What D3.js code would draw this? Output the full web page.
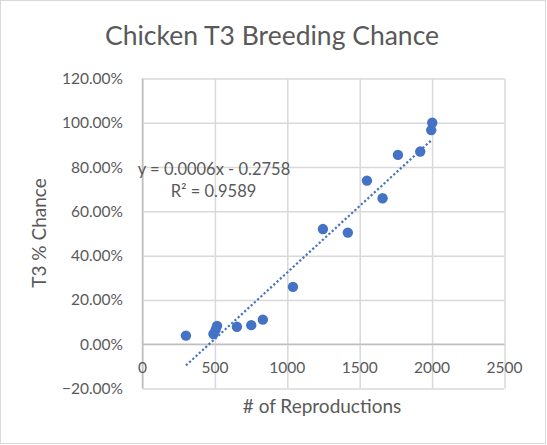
<!DOCTYPE html>
<html>
<head>
<script src="https://d3js.org/d3.v7.min.js"></script>
<style>
  body { margin: 0; background: #fff; }
  text { font-family: Lato, "Open Sans", sans-serif; fill: #595959; }
</style>
</head>
<body>
<svg id="chart" width="547" height="445"></svg>
<script>
// data
var reproductions = [300, 490, 505, 515, 652, 751, 831, 1039, 1246, 1418, 1550, 1658, 1764, 1918, 1994, 2001];
var chance        = [0.039, 0.046, 0.065, 0.083, 0.079, 0.086, 0.111, 0.259, 0.520, 0.504, 0.739, 0.659, 0.855, 0.870, 0.967, 1.000];
var xTicks = [0, 500, 1000, 1500, 2000, 2500];
var yTicks = [-0.2, 0, 0.2, 0.4, 0.6, 0.8, 1.0, 1.2];
var trendSlope = 0.0006, trendIntercept = -0.2758;
var eqLabel = "y = 0.0006x - 0.2758";
var r2Label = "R² = 0.9589";

var points = reproductions.map(function(d, i) { return {x: d, y: chance[i]}; });

var svg = d3.select("#chart");

// outer chart border
svg.append("rect")
  .attr("x", 0.5).attr("y", 0.5)
  .attr("width", 545).attr("height", 443)
  .attr("fill", "#fff")
  .attr("stroke", "#d9d9d9");

var xScale = d3.scaleLinear().domain([0, 2500]).range([142.5, 504.5]);
var yScale = d3.scaleLinear().domain([-0.2, 1.2]).range([388.5, 78.5]);

// grid
svg.append("g")
  .attr("transform", "translate(0,388.5)")
  .call(d3.axisBottom(xScale).tickValues(xTicks).tickSize(-310).tickFormat(""))
  .call(g => g.select(".domain").remove())
  .selectAll("line").attr("stroke", "#d9d9d9").attr("stroke-width", 1.5);

svg.append("g")
  .attr("transform", "translate(142.5,0)")
  .call(d3.axisLeft(yScale).tickValues(yTicks).tickSize(-362).tickFormat(""))
  .call(g => g.select(".domain").remove())
  .selectAll("line").attr("stroke", "#d9d9d9").attr("stroke-width", 1.5);

// axis lines
svg.append("line")
  .attr("x1", xScale(0)).attr("x2", xScale(2500))
  .attr("y1", yScale(0)).attr("y2", yScale(0))
  .attr("stroke", "#bfbfbf").attr("stroke-width", 1.5);
svg.append("line")
  .attr("x1", xScale(0)).attr("x2", xScale(0))
  .attr("y1", yScale(1.2)).attr("y2", yScale(-0.2))
  .attr("stroke", "#bfbfbf").attr("stroke-width", 1.5);

// tick labels
svg.append("g").selectAll("text")
  .data(yTicks)
  .enter()
  .append("text")
  .attr("x", 123)
  .attr("y", d => yScale(d) + 5.5)
  .attr("text-anchor", "end")
  .style("font-size", "15.5px")
  .text(d => d3.format(".2%")(d));

svg.append("g").selectAll("text")
  .data(xTicks)
  .enter()
  .append("text")
  .attr("x", d => xScale(d))
  .attr("y", yScale(0) + 29)
  .attr("text-anchor", "middle")
  .style("font-size", "15.5px")
  .text(d => d);

// trendline, over the data range
var xExt = d3.extent(reproductions);
var trend = d3.line().x(d => xScale(d)).y(d => yScale(trendSlope * d + trendIntercept));
svg.append("path")
  .attr("d", trend(xExt))
  .attr("fill", "none")
  .attr("stroke", "#4472c4")
  .attr("stroke-width", 2.2)
  .attr("stroke-dasharray", "2.2,2.2");

// points
svg.append("g").selectAll("circle")
  .data(points)
  .enter()
  .append("circle")
  .attr("r", 5.2)
  .attr("cx", d => xScale(d.x))
  .attr("cy", d => yScale(d.y))
  .style("fill", "#4472c4");

// trendline label
svg.append("text")
  .attr("x", 214).attr("y", 175)
  .attr("text-anchor", "middle")
  .style("font-size", "16.5px")
  .text(eqLabel);
svg.append("text")
  .attr("x", 213.5).attr("y", 197)
  .attr("text-anchor", "middle")
  .style("font-size", "16.5px")
  .text(r2Label);

// titles
svg.append("text")
  .attr("x", 272).attr("y", 45)
  .attr("text-anchor", "middle")
  .style("font-size", "26.5px")
  .text("Chicken T3 Breeding Chance");

svg.append("text")
  .attr("x", 322).attr("y", 413)
  .attr("text-anchor", "middle")
  .style("font-size", "19px")
  .text("# of Reproductions");

svg.append("text")
  .attr("transform", "translate(46,233) rotate(-90)")
  .attr("text-anchor", "middle")
  .style("font-size", "19px")
  .text("T3 % Chance");
</script>
</body>
</html>
